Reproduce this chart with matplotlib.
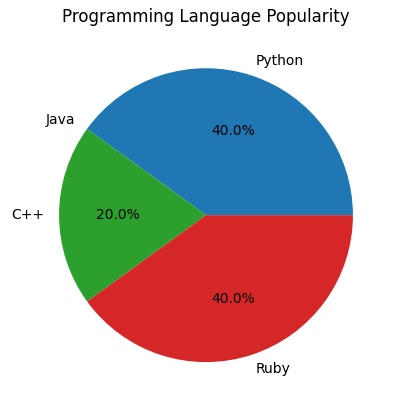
import matplotlib
matplotlib.use('Agg')
import matplotlib.pyplot as plt

languages = ['Python', 'Java', 'C++', 'Ruby']
popularity = [40, 0, 20, 40]

fig = plt.figure(figsize=(4, 4.11), dpi=100)
ax = fig.add_axes([0.1475, 0.119, 0.735, 0.715])
ax.pie(popularity, labels=languages,
       autopct=lambda p: f'{p:.1f}%' if p > 0 else '')
ax.set_xlim(-1, 1)
ax.set_ylim(-1, 1)
ax.set_title('Programming Language Popularity', pad=33)
plt.savefig('out.png')
